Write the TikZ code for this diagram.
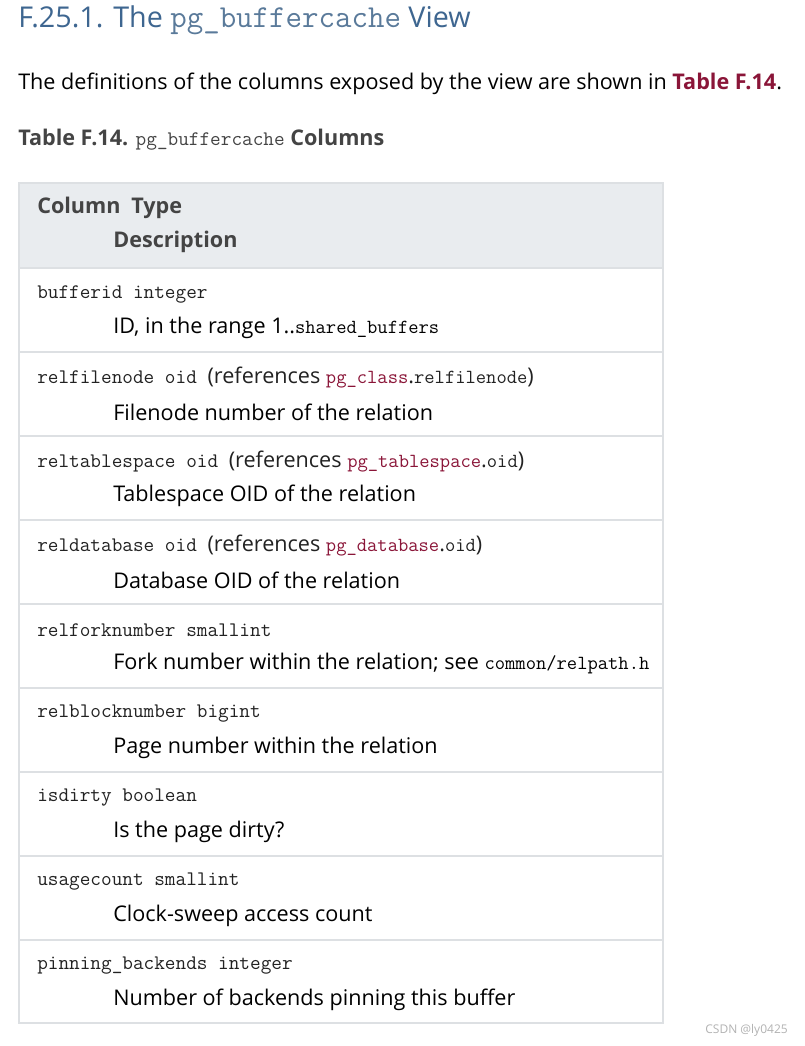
\documentclass[tikz,border=0pt]{standalone}
\usepackage{fontspec}
\setmainfont{Open Sans}
\setmonofont{Latin Modern Mono}
\definecolor{ttl}{HTML}{3E6690}
\definecolor{ttlm}{HTML}{5A7A9A}
\definecolor{lnk}{HTML}{8A1538}
\definecolor{hdr}{HTML}{E9ECEF}
\definecolor{brd}{HTML}{DDE0E3}
\definecolor{txt}{HTML}{222222}
\definecolor{hd}{HTML}{444444}
\newcommand{\mt}[1]{{\fontsize{15pt}{18pt}\selectfont\ttfamily #1}}
\begin{document}
\begin{tikzpicture}[x=0.75pt,y=-0.75pt,
  col/.style={anchor=west,inner sep=0pt,font=\fontsize{15.5pt}{18pt}\selectfont\ttfamily,text=txt},
  desc/.style={anchor=west,inner sep=0pt,font=\fontsize{16.2pt}{19pt}\selectfont,text=black},
  sep/.style={draw=brd,line width=0.9pt}]
\useasboundingbox (0,0) rectangle (804,1046);
\node[anchor=west,inner sep=0pt,text=ttl,font=\fontsize{21.5pt}{25pt}\selectfont] (title) at (18,20) {F.25.1. The \textcolor{ttlm}{{\fontsize{24pt}{25pt}\selectfont\ttfamily pg\_buffercache}} View};
\node[anchor=west,inner sep=0pt,font=\fontsize{16.2pt}{19pt}\selectfont] (intro) at (18,84) {The definitions of the columns exposed by the view are shown in \textcolor{lnk}{\textbf{Table F.14}}.};
\node[anchor=west,inner sep=0pt,text=hd,font=\fontsize{16.2pt}{19pt}\selectfont] (cap) at (18,140) {\textbf{Table F.14.} {\fontsize{15.5pt}{18pt}\selectfont\ttfamily pg\_buffercache} \textbf{Columns}};
\fill[hdr] (18,183) rectangle (664,268);
\draw[brd,line width=2.2pt] (19,183) rectangle (663,1023);
\draw[brd,line width=2pt] (19,268) -- (663,268);
\node[anchor=west,inner sep=0pt,text=hd,font=\fontsize{16.2pt}{19pt}\selectfont\bfseries] (h1) at (37,208) {Column\enspace Type};
\node[anchor=west,inner sep=0pt,text=hd,font=\fontsize{16.2pt}{19pt}\selectfont\bfseries] (h2) at (113,242) {Description};
\foreach \y/\c/\d in {
 268/{bufferid integer}/{ID, in the range 1..\mt{shared\_buffers}},
 352/{relfilenode oid \textrm{\fontsize{16.2pt}{19pt}\selectfont(references \textcolor{lnk}{\mt{pg\_class}}.\mt{relfilenode})}}/{Filenode number of the relation},
 436/{reltablespace oid \textrm{\fontsize{16.2pt}{19pt}\selectfont(references \textcolor{lnk}{\mt{pg\_tablespace}}.\mt{oid})}}/{Tablespace OID of the relation},
 520/{reldatabase oid \textrm{\fontsize{16.2pt}{19pt}\selectfont(references \textcolor{lnk}{\mt{pg\_database}}.\mt{oid})}}/{Database OID of the relation},
 604/{relforknumber smallint}/{Fork number within the relation; see \mt{common/relpath.h}},
 688/{relblocknumber bigint}/{Page number within the relation},
 772/{isdirty boolean}/{Is the page dirty?},
 856/{usagecount smallint}/{Clock-sweep access count},
 940/{pinning\_backends integer}/{Number of backends pinning this buffer}}
{
 \node[col] at (37,\y+26) {\c};
 \node[desc] at (113,\y+60) {\d};
}
\foreach \y in {352,436,520,604,688,772,856,940} \draw[sep] (20,\y) -- (662,\y);
\node[anchor=east,inner sep=0pt,text=gray!60,font=\fontsize{9pt}{10pt}\selectfont] (wm) at (788,1030) {CSDN @ly0425};
\end{tikzpicture}
\end{document}
